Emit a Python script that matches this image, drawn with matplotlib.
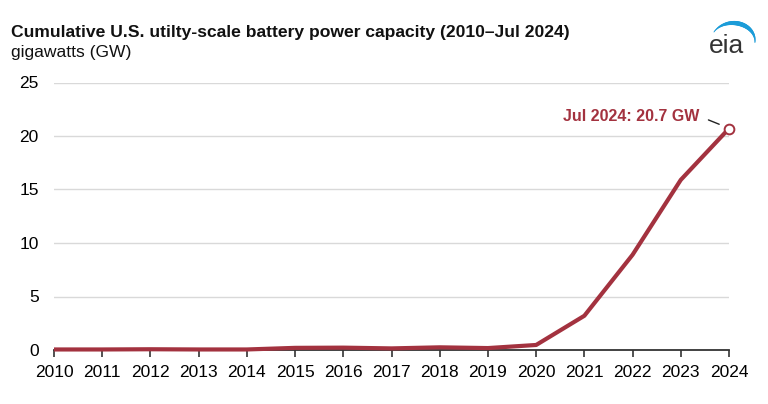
import numpy as np
import matplotlib
matplotlib.use("Agg")
import matplotlib.pyplot as plt

plt.rcParams['font.family'] = ['Liberation Sans', 'DejaVu Sans']

# data
years = [2010, 2011, 2012, 2013, 2014, 2015, 2016, 2017, 2018, 2019, 2020, 2021, 2022, 2023, 2024]
capacity_gw = [0.05, 0.05, 0.07, 0.05, 0.05, 0.2, 0.22, 0.15, 0.25, 0.18, 0.47, 3.2, 8.9, 15.9, 20.7]
y_ticks = [0, 5, 10, 15, 20, 25]
last_label = "Jul 2024: 20.7 GW"

LINE_COLOR = '#a3323f'
W, H = 768, 404

fig = plt.figure(figsize=(W / 100, H / 100), dpi=100)
ax = fig.add_axes([54 / W, 1 - 350 / H, (729 - 54) / W, (350 - 82.5) / H])

ax.plot(years, capacity_gw, color=LINE_COLOR, linewidth=3, solid_capstyle='butt',
        clip_on=False, zorder=3)
ax.plot(years[-1], capacity_gw[-1], marker='o', markersize=7, markerfacecolor='white',
        markeredgecolor=LINE_COLOR, markeredgewidth=1.4, clip_on=False, zorder=4)

ax.set_xlim(years[0], years[-1])
ax.set_ylim(0, 25)
ax.set_xticks(years)
ax.set_yticks(y_ticks)
ax.grid(axis='y', color='#d9d9d9', linewidth=1)
ax.set_axisbelow(True)
for side in ['top', 'right', 'left']:
    ax.spines[side].set_visible(False)
ax.spines['bottom'].set_color('#333333')
ax.spines['bottom'].set_linewidth(1.3)
ax.spines['bottom'].set_zorder(2)
ax.tick_params(axis='x', direction='out', length=5, width=1.2, color='#333333',
               labelsize=12.5, pad=5.5)
ax.tick_params(axis='y', length=0, labelsize=12.5, pad=11)

# annotation for the last point
ax.annotate(last_label, xy=(years[-1], capacity_gw[-1]), xytext=(-21, 9),
            textcoords='offset points', ha='right', va='center',
            fontsize=11.5, fontweight='bold', color=LINE_COLOR)
ax.annotate('', xy=(years[-1] - 0.15, capacity_gw[-1] + 0.3), xytext=(years[-1] - 0.48, capacity_gw[-1] + 0.9),
            arrowprops=dict(arrowstyle='-', color='#222222', linewidth=1))

fig.text(11 / W, 1 - 33 / H, "Cumulative U.S. utilty-scale battery power capacity (2010\u2013Jul 2024)",
         fontsize=12.6, fontweight='bold', va='center', ha='left', color='#111111')
fig.text(11 / W, 1 - 52 / H, "gigawatts (GW)", fontsize=12.6, va='center', ha='left', color='#111111')

# eia logo
fig.text(726 / W, 1 - 53 / H, "eia", fontsize=19, ha='center', va='baseline', color='#333333')
a = np.radians(np.linspace(150, -5, 50))
arc_x = 733 + 22 * np.cos(a)
arc_y = 41 - 18 * np.sin(a)
for i in range(len(a) - 1):
    lw = 0.6 + 2.6 * np.sin(np.pi * i / (len(a) - 1)) ** 1.5
    fig.add_artist(plt.Line2D([arc_x[i] / W, arc_x[i + 1] / W],
                              [1 - arc_y[i] / H, 1 - arc_y[i + 1] / H],
                              color='#1c9cd8', linewidth=lw, solid_capstyle='round'))

fig.savefig("out.png", dpi=100)
